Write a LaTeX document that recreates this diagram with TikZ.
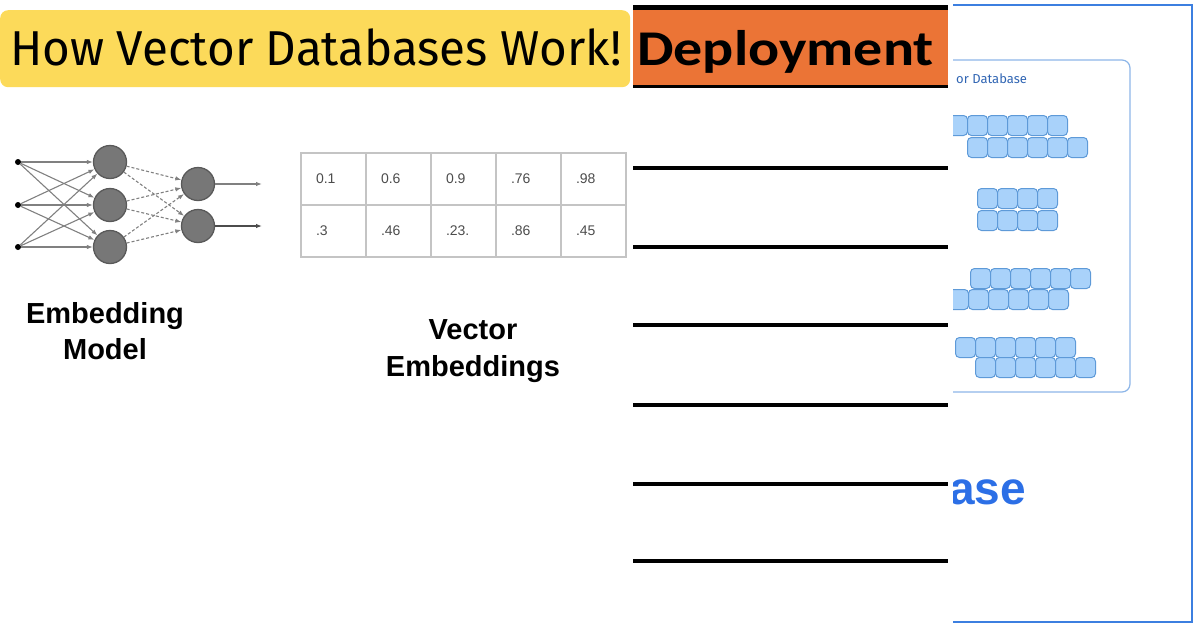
\documentclass[tikz,border=0pt]{standalone}
\usepackage{fontspec}
\setmainfont{Liberation Sans}
\newfontfamily\titlefont[FakeStretch=0.97]{Fira Sans}
\newfontfamily\deployfont[FakeStretch=1.16]{Carlito}
\newfontfamily\notefont{Fira Sans}
\usetikzlibrary{arrows.meta,positioning}
\definecolor{titleyellow}{HTML}{FCDA5A}
\definecolor{deployorange}{HTML}{EB7436}
\definecolor{panelblue}{HTML}{3C7FE0}
\definecolor{innerblue}{HTML}{8DB6E8}
\definecolor{sqfill}{HTML}{A9D2FA}
\definecolor{sqdraw}{HTML}{5E9AD8}
\definecolor{headblue}{HTML}{2C6FE6}
\definecolor{neurongray}{HTML}{777777}
\definecolor{gridgray}{HTML}{C4C4C4}

\begin{document}
\begin{tikzpicture}[
  x=1pt, y=-1pt,
  >={Latex[length=6pt, width=4.5pt]},
  neuron/.style={circle, draw=black!65, fill=neurongray, line width=1.3pt,
                 minimum size=33pt, inner sep=0pt},
  inp/.style={circle, fill=black, minimum size=6pt, inner sep=0pt},
  wire/.style={->, draw=black!50, line width=1.1pt},
  cell/.style={draw=gridgray, line width=1.2pt, minimum width=65pt, minimum height=52pt,
               text width=35pt, inner xsep=15pt, align=left, outer sep=0pt,
               font=\fontsize{14}{16}\selectfont, text=black!70},
  lbl/.style={font=\bfseries\fontsize{29}{36}\selectfont, align=center},
  vec/.style={draw=sqdraw, fill=sqfill, rounded corners=4pt, line width=1pt,
              minimum size=20pt, inner sep=0pt},
  rule/.style={line width=3.5pt, black},
]
\useasboundingbox (0,0) rectangle (1200,630);
% title banner
\node[fill=titleyellow, rounded corners=8pt, minimum width=630pt, minimum height=77pt,
      inner sep=0pt, anchor=north west] (titlebox) at (0,10) {};
\node[anchor=base west, inner sep=0pt, font=\titlefont\fontsize{49}{60}\selectfont]
  (title) at (10,65) {How Vector Databases Work!};
% embedding model (small network)
\node[inp] (in1) at (18,162) {};
\node[inp] (in2) at (18,205) {};
\node[inp] (in3) at (18,247) {};
\node[neuron] (h1) at (110,162) {};
\node[neuron] (h2) at (110,205) {};
\node[neuron] (h3) at (110,247) {};
\node[neuron] (o1) at (198,184) {};
\node[neuron] (o2) at (198,226) {};
\coordinate (out1) at (262,184);
\coordinate (out2) at (262,226);
\foreach \i in {1,2,3}
  \foreach \j in {1,2,3}
    \draw[wire] (in\i) -- (h\j);
\foreach \i in {1,2,3}
  \foreach \j in {1,2}
    \draw[wire, dash pattern=on 3pt off 2pt] (h\i) -- (o\j);
\draw[wire] (o1) -- (out1);
\draw[wire, draw=black!70] (o2) -- (out2);
\node[lbl] (embmodel) at (105,331) {Embedding\\Model};
% vector embeddings table
\foreach \v [count=\i] in {0.1, 0.6, 0.9, .76, .98}
  \node[cell] (ra\i) at ({268.5+65*\i},179) {\v};
\foreach \v [count=\i] in {.3, .46, .23., .86, .45}
  \node[cell] (rb\i) at ({268.5+65*\i},231) {\v};
\node[lbl, font=\bfseries\fontsize{29}{37}\selectfont] (vecemb) at (473,351) {Vector\\Embeddings};
% deployment strip
\draw[line width=5pt] (633,7.5) -- (948,7.5);
\fill[deployorange] (633,10) rectangle (948,85);
\draw[line width=3pt] (633,86.5) -- (948,86.5);
\node[anchor=base west, inner sep=0pt, font=\deployfont\bfseries\fontsize{50}{60}\selectfont]
  (deploy) at (637,65) {Deployment};
\foreach \y in {168,247,325,405,484,561}
  \draw[rule] (633,\y) -- (948,\y);
% vector database panel (cut at the left)
\begin{scope}
  \clip (953,0) rectangle (1200,630);
  \draw[panelblue, line width=2pt] (900,5) rectangle (1192,622);
  \draw[innerblue, line width=1.2pt, rounded corners=8pt] (900,60) rectangle (1130,392);
  \node[anchor=base west, inner sep=0pt, text=panelblue!80!black,
        font=\notefont\fontsize{13}{15}\selectfont] (dbnote) at (956,83) {or Database};
  \foreach \sx/\sy/\n [count=\r] in {947/115/6, 967/137/6, 977/188/4, 977/210/4,
                                    970/268/6, 948/289/6, 955/337/6, 975/357/6}
    \foreach \k in {1,...,\n}
      \node[vec, anchor=north west] (sq\r-\k) at ({\sx+20*(\k-1)},\sy) {};
  \node[anchor=base east, inner sep=0pt, text=headblue,
        font=\bfseries\fontsize{46}{50}\selectfont] (dbhead) at (1026,504) {ase};
\end{scope}
\end{tikzpicture}
\end{document}
